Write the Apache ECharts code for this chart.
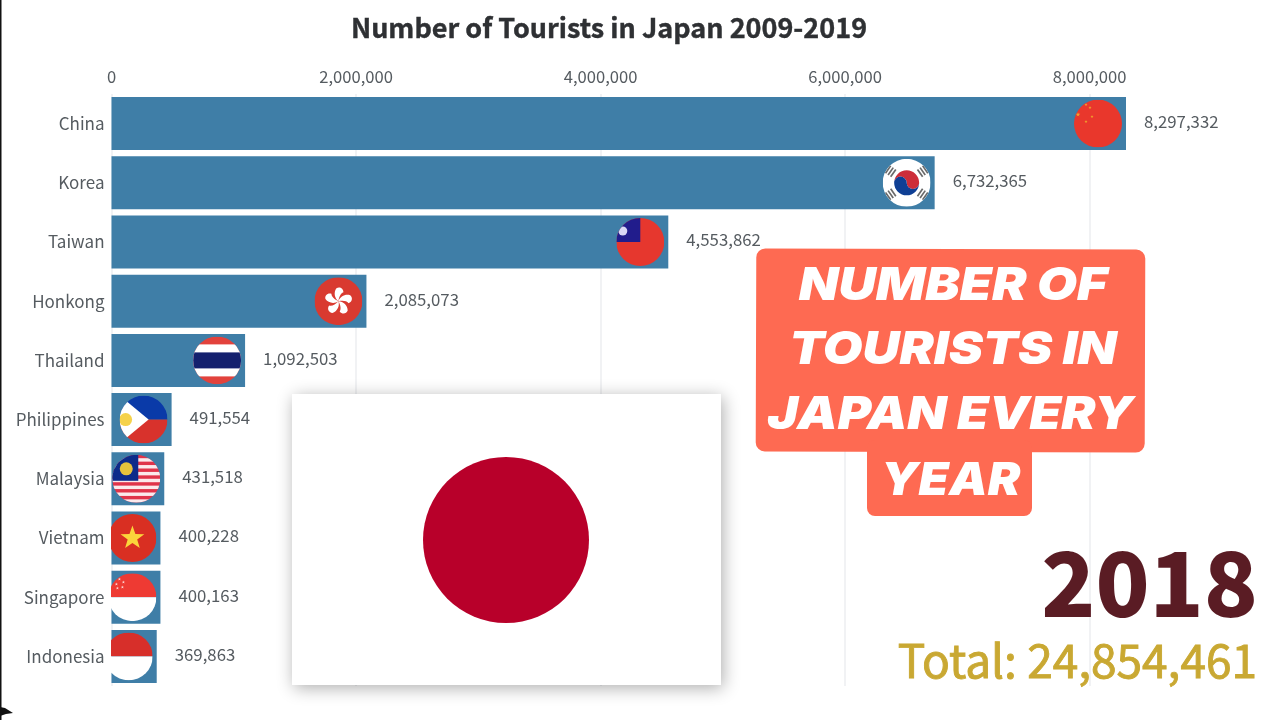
<!DOCTYPE html>
<html>
<head>
<meta charset="utf-8">
<title>Number of Tourists in Japan 2009-2019</title>
<script src="https://cdn.jsdelivr.net/npm/echarts@6/dist/echarts.min.js"></script>
<style>
  html, body { margin: 0; padding: 0; background: #fff; }
  #chart { width: 1280px; height: 720px; }
</style>
</head>
<body>
<div id="chart"></div>
<script>
// Visitor arrivals for the displayed year
const chartTitle = 'Number of Tourists in Japan 2009-2019';
const year = '2018';
const countries = ['China', 'Korea', 'Taiwan', 'Honkong', 'Thailand', 'Philippines', 'Malaysia', 'Vietnam', 'Singapore', 'Indonesia'];
const tourists = [8297332, 6732365, 4553862, 2085073, 1092503, 491554, 431518, 400228, 400163, 369863];
const headlineLines = ['NUMBER OF', 'TOURISTS IN', 'JAPAN EVERY', 'YEAR'];

const fmt = n => n.toLocaleString('en-US');
const total = tourists.reduce((a, b) => a + b, 0);

const FONT = '"Noto Sans CJK SC", "Noto Sans", sans-serif';

// Round flag artwork, each on a 48 x 48 canvas
function star(cx, cy, r, fill) {
  const pts = [];
  for (let i = 0; i < 10; i++) {
    const a = -Math.PI / 2 + i * Math.PI / 5;
    const d = i % 2 ? r * 0.4 : r;
    pts.push((cx + d * Math.cos(a)).toFixed(2) + ',' + (cy + d * Math.sin(a)).toFixed(2));
  }
  return `<polygon points="${pts.join(' ')}" fill="${fill}"/>`;
}
function malaysiaStripes() {
  let s = '';
  for (let i = 0; i < 7; i++) {
    s += `<rect x="0" y="${i * 6.86 + 3.4}" width="48" height="3.43" fill="#fbe9ec"/>`;
  }
  return s;
}
function trigram(cx, cy, rot) {
  return `<g transform="translate(${cx} ${cy}) rotate(${rot})" fill="#6a6a6a">` +
    `<rect x="-4.5" y="-4" width="9" height="1.7"/><rect x="-4.5" y="-.85" width="9" height="1.7"/><rect x="-4.5" y="2.3" width="9" height="1.7"/></g>`;
}
const petal = a => `<path transform="rotate(${a} 24 24)" d="M24 24C20 21 19 15 22 11C25 9 29 11 29 15C26 16 24.5 20 24 24Z" fill="#fff"/>`;

const flagArt = {
  China: `<rect width="48" height="48" fill="#e9372c"/>` + star(4, 15, 2.4, '#f0a32c') + star(12, 5, 1.6, '#f0a32c') + star(16, 8, 1.6, '#f0a32c') + star(18, 17, 1.6, '#f0a32c') + star(12, 22, 1.6, '#f0a32c'),
  Korea: `<rect width="48" height="48" fill="#fff"/>` +
    `<path d="M11.5 24a12.5 12.5 0 0 1 25 0a6.25 6.25 0 0 1-12.5 0a6.25 6.25 0 0 0-12.5 0Z" fill="#cd2e3a"/>` +
    `<path d="M36.5 24a12.5 12.5 0 0 1-25 0a6.25 6.25 0 0 1 12.5 0a6.25 6.25 0 0 0 12.5 0Z" fill="#0f3f94"/>` +
    trigram(8, 12.5, -55) + trigram(40, 12.5, 55) + trigram(8, 35.5, 55) + trigram(40, 35.5, -55),
  Taiwan: `<rect width="48" height="48" fill="#e6372e"/><rect width="24" height="24" fill="#211c8c"/><circle cx="6.5" cy="13" r="4.5" fill="#d9d7f5"/>`,
  Honkong: `<rect width="48" height="48" fill="#d93a30"/>` + [0, 72, 144, 216, 288].map(petal).join(''),
  Thailand: `<rect width="48" height="48" fill="#e2423c"/><rect y="8" width="48" height="32" fill="#fff"/><rect y="16" width="48" height="16" fill="#14206e"/>`,
  Philippines: `<rect width="48" height="24" fill="#0a3aa8"/><rect y="24" width="48" height="24" fill="#d8322c"/><polygon points="0,0 29,24 0,48" fill="#fff"/><circle cx="6" cy="24" r="6.5" fill="#f5d24b"/>`,
  Malaysia: `<rect width="48" height="48" fill="#e0334a"/>` + malaysiaStripes() + `<rect width="26" height="26" fill="#0d2b8a"/><circle cx="14" cy="14" r="6.5" fill="#e7c33c"/>`,
  Vietnam: `<rect width="48" height="48" fill="#d92f22"/>` + star(24, 24, 12.5, '#fbd53b'),
  Singapore: `<rect width="48" height="24" fill="#ee3a33"/><rect y="24" width="48" height="24" fill="#fff"/>` + star(8, 11, 1.6, '#fde0dc') + star(11, 6, 1.6, '#fde0dc') + star(15, 9, 1.6, '#fde0dc') + star(14, 14, 1.6, '#fde0dc') + star(9, 15, 1.6, '#fde0dc'),
  Indonesia: `<rect width="48" height="24" fill="#d72f2a"/><rect y="24" width="48" height="24" fill="#fff"/>`
};
const flagImage = name => 'data:image/svg+xml;charset=utf-8,' + encodeURIComponent(
  `<svg xmlns="http://www.w3.org/2000/svg" width="96" height="96" viewBox="0 0 48 48"><clipPath id="c"><circle cx="24" cy="24" r="24"/></clipPath><g clip-path="url(#c)">${flagArt[name]}</g></svg>`
);

const chart = echarts.init(document.getElementById('chart'), null, { renderer: 'canvas' });

chart.setOption({
  animation: false,
  backgroundColor: '#ffffff',
  title: {
    text: chartTitle,
    left: 604,
    top: 9,
    textAlign: 'center',
    textStyle: { fontFamily: FONT, fontSize: 27, fontWeight: 'bold', color: '#2e3033', textBorderColor: '#2e3033', textBorderWidth: 0.4 }
  },
  grid: { left: 111.5, top: 94, width: 1014.5, height: 592 },
  xAxis: {
    type: 'value',
    position: 'top',
    min: 0,
    max: tourists[0],
    interval: 2000000,
    axisLine: { show: false },
    axisTick: { show: false },
    axisLabel: {
      showMaxLabel: false,
      margin: 9,
      fontFamily: FONT,
      fontSize: 16.6,
      color: '#555b60',
      formatter: v => fmt(v)
    },
    splitLine: { show: true, showMaxLine: false, lineStyle: { color: '#eceef0', width: 1.5 } }
  },
  yAxis: {
    type: 'category',
    inverse: true,
    data: countries,
    axisLine: { show: false },
    axisTick: { show: false },
    axisLabel: { margin: 7, padding: [0, 0, 5, 0], fontFamily: FONT, fontSize: 17, color: '#555b60' }
  },
  series: [
    {
      name: 'Tourists',
      type: 'bar',
      data: tourists,
      barWidth: 53,
      itemStyle: { color: '#3f7ea7' },
      label: {
        show: true,
        position: 'right',
        distance: 18,
        offset: [0, -2],
        fontFamily: FONT,
        fontSize: 16.8,
        color: '#555b60',
        formatter: p => fmt(p.value)
      },
      z: 2
    },
    {
      name: 'Flags',
      type: 'custom',
      clip: true,
      z: 3,
      data: tourists.map((v, i) => [v, i]),
      encode: { x: 0, y: 1 },
      renderItem: (params, api) => {
        const end = api.coord([api.value(0), api.value(1)]);
        const r = 24, inset = 28;
        return {
          type: 'image',
          style: {
            image: flagImage(countries[api.value(1)]),
            x: end[0] - inset - r,
            y: end[1] - r,
            width: 2 * r,
            height: 2 * r
          }
        };
      }
    }
  ],
  graphic: [
    // Frame edge on the left side
    { type: 'rect', shape: { x: 0, y: 0, width: 1.5, height: 720 }, style: { fill: '#111' }, z: 50 },
    { type: 'polygon', shape: { points: [[0, 707], [5, 708], [13, 713], [6, 714], [0, 716]] }, style: { fill: '#111' }, z: 50 },

    // Flag of Japan
    {
      type: 'rect',
      shape: { x: 292, y: 394, width: 429, height: 291 },
      style: { fill: '#fff', shadowBlur: 16, shadowColor: 'rgba(0,0,0,0.32)', shadowOffsetX: 2, shadowOffsetY: 3 },
      z: 20
    },
    { type: 'circle', shape: { cx: 506, cy: 540, r: 83 }, style: { fill: '#b8002a' }, z: 21 },

    // Headline badge
    { type: 'rect', shape: { x: 756, y: 249, width: 389, height: 203, r: 9 }, rotation: -0.003, originX: 950, originY: 350, style: { fill: '#fe6a52' }, z: 30 },
    { type: 'rect', shape: { x: 867, y: 440, width: 165, height: 76, r: 8 }, style: { fill: '#fe6a52' }, z: 30 },
    ...headlineLines.map((line, i) => {
      const cx = [953, 953, 950.5, 950.5][i];
      const cy = [286, 350, 415, 481][i];
      return {
        type: 'text',
        z: 31,
        scaleX: [1.125, 1.115, 1.113, 1.06][i],
        originX: cx,
        originY: cy,
        style: {
          text: line,
          x: cx,
          y: cy,
          align: 'center',
          verticalAlign: 'middle',
          fontFamily: 'Inter, "Open Sans", sans-serif',
          fontStyle: 'italic',
          fontWeight: 900,
          fontSize: 46,
          fill: '#ffffff'
        }
      };
    }),

    // Year and total
    {
      type: 'text', z: 10,
      style: { text: year, x: 1258, y: 583, align: 'right', verticalAlign: 'middle', fontFamily: FONT, fontWeight: 900, fontSize: 89, fill: '#5a1c24' }
    },
    {
      type: 'text', z: 10,
      style: { text: 'Total: ' + fmt(total), x: 1257, y: 661, align: 'right', verticalAlign: 'middle', fontFamily: FONT, fontSize: 46, fill: '#c9a832', stroke: '#c9a832', lineWidth: 0.9 }
    }
  ]
});
</script>
</body>
</html>
